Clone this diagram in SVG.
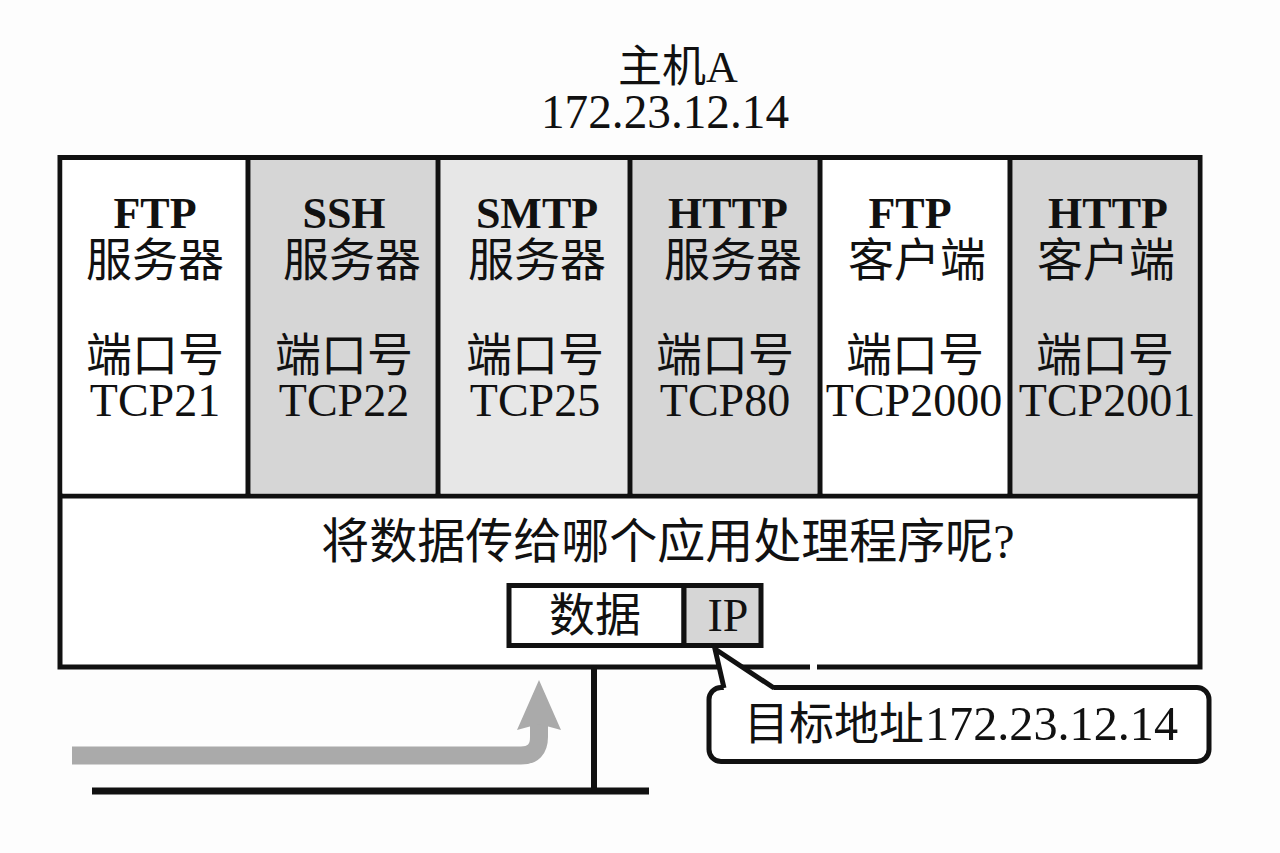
<svg xmlns="http://www.w3.org/2000/svg" width="1280" height="853" viewBox="0 0 1280 853">
<style>
.cjk{font-family:"Liberation Serif","Noto Sans CJK SC",serif;fill:#111;text-anchor:middle}
.proto{font-family:"Liberation Serif","Noto Sans CJK SC",serif;font-weight:bold;font-size:44px;fill:#111;text-anchor:middle}
.role{font-size:46px}
.port{font-family:"Liberation Serif","Noto Sans CJK SC",serif;font-size:46px;fill:#111;text-anchor:middle}
.ln{stroke:#111;stroke-width:5;fill:none}
.dark{fill:#d6d6d6}
.light{fill:#e7e7e7}
.white{fill:#fff}
</style>
<rect width="1280" height="853" fill="#fdfdfd"/>

<g id="host-label">
<text class="cjk" x="678" y="82" font-size="44">主机A</text>
<text x="541" y="128" font-family="Liberation Serif,serif" font-size="48" fill="#111" textLength="248" lengthAdjust="spacingAndGlyphs">172.23.12.14</text>
</g>

<g id="host-frame">
<rect x="60" y="157.5" width="1140" height="509" fill="#fff"/>
<path class="ln" d="M810,667 H60 V157.5 H1200 V667 H817"/>
<line class="ln" x1="60" y1="496" x2="1200" y2="496"/>
</g>

<g id="col-ftp-server">
<rect class="white" x="62.5" y="160" width="183" height="333.5"/>
<text class="proto" x="155" y="228">FTP</text>
<text class="cjk role" x="155" y="276">服务器</text>
<text class="cjk role" x="155" y="371">端口号</text>
<text class="port" x="155" y="416">TCP21</text>
</g>
<g id="col-ssh-server">
<rect class="dark" x="250.5" y="160" width="185" height="333.5"/>
<text class="proto" x="344" y="228">SSH</text>
<text class="cjk role" x="352" y="276">服务器</text>
<text class="cjk role" x="344" y="371">端口号</text>
<text class="port" x="344" y="416">TCP22</text>
</g>
<g id="col-smtp-server">
<rect class="light" x="440.5" y="160" width="187" height="333.5"/>
<text class="proto" x="537" y="228">SMTP</text>
<text class="cjk role" x="537" y="276">服务器</text>
<text class="cjk role" x="535" y="371">端口号</text>
<text class="port" x="535" y="416">TCP25</text>
</g>
<g id="col-http-server">
<rect class="dark" x="632.5" y="160" width="185" height="333.5"/>
<text class="proto" x="728" y="228">HTTP</text>
<text class="cjk role" x="733" y="276">服务器</text>
<text class="cjk role" x="725" y="371">端口号</text>
<text class="port" x="725" y="416">TCP80</text>
</g>
<g id="col-ftp-client">
<rect class="white" x="822.5" y="160" width="185" height="333.5"/>
<text class="proto" x="910" y="228">FTP</text>
<text class="cjk role" x="917" y="276">客户端</text>
<text class="cjk role" x="915" y="371">端口号</text>
<text class="port" x="914" y="416">TCP2000</text>
</g>
<g id="col-http-client">
<rect class="dark" x="1012.5" y="160" width="185" height="333.5"/>
<text class="proto" x="1108" y="228">HTTP</text>
<text class="cjk role" x="1106" y="276">客户端</text>
<text class="cjk role" x="1105" y="371">端口号</text>
<text class="port" x="1107" y="416">TCP2001</text>
</g>

<g id="dividers">
<line class="ln" x1="248" y1="157.5" x2="248" y2="496"/>
<line class="ln" x1="438" y1="157.5" x2="438" y2="496"/>
<line class="ln" x1="630" y1="157.5" x2="630" y2="496"/>
<line class="ln" x1="820" y1="157.5" x2="820" y2="496"/>
<line class="ln" x1="1010" y1="157.5" x2="1010" y2="496"/>
</g>

<g id="question">
<text class="cjk" x="668" y="558" font-size="48">将数据传给哪个应用处理程序呢?</text>
</g>

<g id="packet">
<rect x="509" y="585.5" width="175" height="60" fill="#fff" stroke="#111" stroke-width="5"/>
<rect x="684" y="585.5" width="77" height="60" fill="#d6d6d6" stroke="#111" stroke-width="5"/>
<text class="cjk" x="595" y="631" font-size="46">数据</text>
<text class="port" x="728" y="631">IP</text>
</g>

<g id="connectors">
<line x1="594" y1="667" x2="594" y2="791" stroke="#111" stroke-width="6"/>
<line x1="92" y1="791" x2="649" y2="791" stroke="#111" stroke-width="7"/>
<path d="M72,755.5 H521 Q539,755.5 539,737 V724" fill="none" stroke="#aaaaaa" stroke-width="18"/>
<polygon points="517,730 539,680 561,730 539,724" fill="#aaaaaa"/>
</g>

<g id="callout">
<rect x="709" y="687.5" width="500" height="74" rx="12" fill="#fff" stroke="#111" stroke-width="5"/>
<polygon points="724,690 715,649 774,690" fill="#fff"/>
<polyline points="724,688 715,649 774,688" fill="none" stroke="#111" stroke-width="5" stroke-linejoin="miter"/>
<text class="cjk" x="834" y="740" font-size="45">目标地址</text>
<text x="925" y="740" font-family="Liberation Serif,serif" font-size="48" fill="#111" textLength="253" lengthAdjust="spacingAndGlyphs">172.23.12.14</text>
</g>
</svg>
